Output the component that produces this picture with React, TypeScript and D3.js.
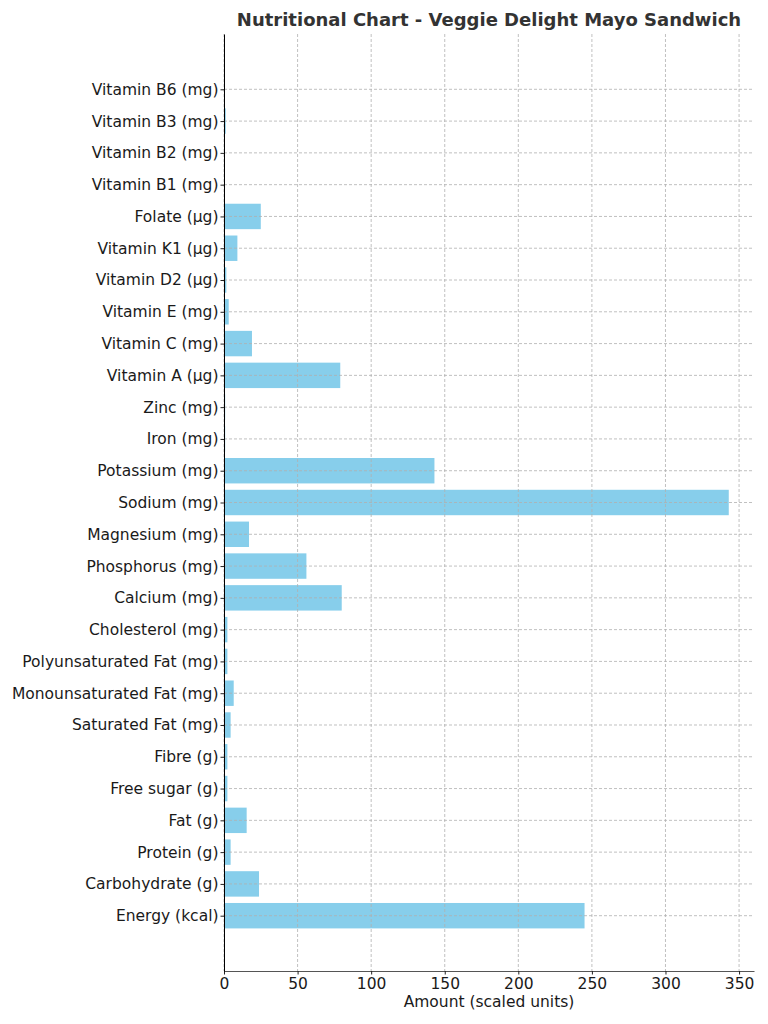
import { useEffect, useRef } from 'react';
import * as d3 from 'd3';

// Nutrients, listed bottom to top as they appear on the y axis
const nutrients = [
  'Energy (kcal)',
  'Carbohydrate (g)',
  'Protein (g)',
  'Fat (g)',
  'Free sugar (g)',
  'Fibre (g)',
  'Saturated Fat (mg)',
  'Monounsaturated Fat (mg)',
  'Polyunsaturated Fat (mg)',
  'Cholesterol (mg)',
  'Calcium (mg)',
  'Phosphorus (mg)',
  'Magnesium (mg)',
  'Sodium (mg)',
  'Potassium (mg)',
  'Iron (mg)',
  'Zinc (mg)',
  'Vitamin A (µg)',
  'Vitamin C (mg)',
  'Vitamin E (mg)',
  'Vitamin D2 (µg)',
  'Vitamin K1 (µg)',
  'Folate (µg)',
  'Vitamin B1 (mg)',
  'Vitamin B2 (mg)',
  'Vitamin B3 (mg)',
  'Vitamin B6 (mg)',
];

const amounts = [
  245, 23.8, 4.5, 15.4, 2.3, 2.3, 4.5, 6.6, 2.3, 2.3,
  80, 56, 17, 343, 143, 0.8, 0.8, 79, 19, 3.2,
  1.6, 9.1, 25, 0.6, 0.6, 1.2, 0.6,
];

const xTicks = [0, 50, 100, 150, 200, 250, 300, 350];

const NutritionChart = () => {
  const chartRef = useRef<SVGSVGElement>(null);
  const width = 768;
  const height = 1024;
  const marginTop = 34;
  const marginRight = 14;
  const marginBottom = 53;
  const marginLeft = 224;
  const font = 'DejaVu Sans, sans-serif';

  useEffect(() => {
    const svg = d3.select(chartRef.current);
    svg.selectAll('*').remove();

    const data = nutrients.map((name, i) => ({ name, value: amounts[i], idx: i }));
    const n = data.length;

    const xMax = d3.max(amounts)! * 1.05;
    const x = d3.scaleLinear()
      .domain([0, xMax])
      .range([marginLeft, width - marginRight]);

    // bar positions are indices; pad like matplotlib's 5% margins
    const lo = -0.4, hi = n - 1 + 0.4;
    const pad = (hi - lo) * 0.05;
    const y = d3.scaleLinear()
      .domain([lo - pad, hi + pad])
      .range([height - marginBottom, marginTop]);
    const barH = y(0) - y(0.8);

    // Bars
    svg.append('g')
      .selectAll('rect')
      .data(data)
      .join('rect')
      .attr('x', x(0))
      .attr('y', d => y(d.idx + 0.4))
      .attr('width', d => x(d.value) - x(0))
      .attr('height', barH)
      .attr('fill', '#87ceeb');

    // Grid, drawn over the bars
    const grid = svg.append('g')
      .attr('stroke', '#b0b0b0')
      .attr('stroke-width', 0.8)
      .attr('stroke-dasharray', '3,2');
    grid.selectAll('line.v')
      .data(xTicks)
      .join('line')
      .attr('class', 'v')
      .attr('x1', d => x(d)).attr('x2', d => x(d))
      .attr('y1', marginTop).attr('y2', height - marginBottom);
    grid.selectAll('line.h')
      .data(data)
      .join('line')
      .attr('class', 'h')
      .attr('x1', marginLeft).attr('x2', width - marginRight)
      .attr('y1', d => y(d.idx)).attr('y2', d => y(d.idx));

    // Horizontal axis
    svg.append('g')
      .attr('transform', `translate(0,${height - marginBottom})`)
      .call(d3.axisBottom(x).tickValues(xTicks).tickSize(3.5).tickSizeOuter(0).tickPadding(3))
      .call(g => g.select('.domain').attr('stroke', '#555').attr('stroke-width', 1.2))
      .call(g => g.selectAll('.tick line').attr('stroke', '#222'))
      .call(g => g.selectAll('.tick text')
        .attr('font-family', font).attr('font-size', 15.5).attr('fill', '#1a1a1a'));

    // Vertical axis
    const yAxis = d3.axisLeft(y)
      .tickValues(data.map(d => d.idx))
      .tickFormat((d) => nutrients[d as number])
      .tickSize(3.5).tickSizeOuter(0).tickPadding(2);
    svg.append('g')
      .attr('transform', `translate(${marginLeft},0)`)
      .call(yAxis)
      .call(g => g.select('.domain').attr('stroke', '#000').attr('stroke-width', 1))
      .call(g => g.selectAll('.tick line').attr('stroke', '#222'))
      .call(g => g.selectAll('.tick text')
        .attr('font-family', font).attr('font-size', 15.5).attr('fill', '#1a1a1a'));

    // Title and axis label
    svg.append('text')
      .attr('x', (marginLeft + width - marginRight) / 2)
      .attr('y', 26)
      .attr('text-anchor', 'middle')
      .attr('font-family', font)
      .attr('font-size', 18)
      .attr('font-weight', 'bold')
      .attr('fill', '#333')
      .text('Nutritional Chart - Veggie Delight Mayo Sandwich');

    svg.append('text')
      .attr('x', (marginLeft + width - marginRight) / 2)
      .attr('y', 1007)
      .attr('text-anchor', 'middle')
      .attr('font-family', font)
      .attr('font-size', 15.5)
      .attr('fill', '#1a1a1a')
      .text('Amount (scaled units)');
  }, []);

  return (
    <svg
      ref={chartRef}
      width={width}
      height={height}
      viewBox={`0 0 ${width} ${height}`}
      style={{ display: 'block', background: '#fff' }}
    />
  );
};

export default function App() {
  return (
    <div style={{ margin: -8 }}>
      <NutritionChart />
    </div>
  );
}
